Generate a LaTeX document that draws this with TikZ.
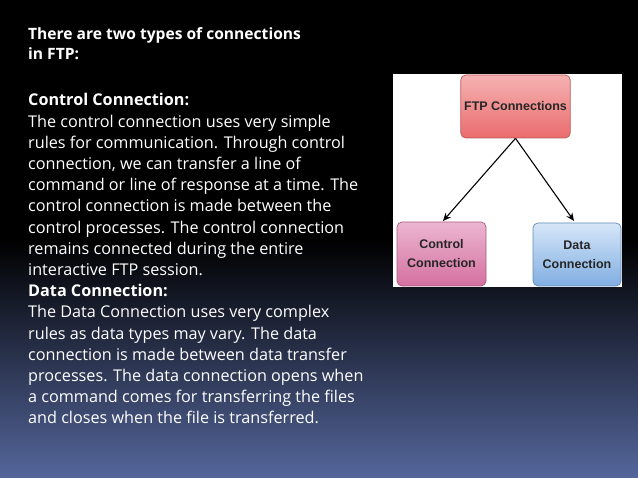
\documentclass[tikz,border=0pt]{standalone}
\usepackage{fontspec}
\setmainfont{Open Sans}
\newfontfamily\boxfont{Liberation Sans}
\usetikzlibrary{arrows.meta}
\definecolor{bgblue}{RGB}{84,102,155}
\definecolor{rtop}{RGB}{246,178,178}
\definecolor{rbot}{RGB}{234,108,110}
\definecolor{ptop}{RGB}{236,182,208}
\definecolor{pbot}{RGB}{212,112,160}
\definecolor{btop}{RGB}{214,230,248}
\definecolor{bbot}{RGB}{128,174,226}
\begin{document}
\begin{tikzpicture}[x=1pt,y=-1pt,
  txt/.style={anchor=base west,text=white,inner sep=0pt,font=\fontsize{16.2}{18}\selectfont},
  ttl/.style={anchor=base west,text=white,inner sep=0pt,font=\fontsize{15.6}{17}\selectfont\bfseries},
  box/.style={draw=#1,rounded corners=5pt,line width=0.7pt,font=\boxfont\fontsize{12.5}{19}\selectfont\bfseries,align=center,text=black!85},
  arr/.style={-{Stealth[length=8pt,width=7pt]},line width=1.1pt}]
\useasboundingbox (0,0) rectangle (638,478);
\fill[black] (0,0) rectangle (638,240);
\shade[top color=black,bottom color=bgblue] (0,239.5) rectangle (638,478);
\node[ttl] (t1) at (28,39.5) {There are two types of connections};
\node[ttl] (t2) at (28,59.5) {in FTP:};
\foreach \i/\s/\b in {
 0/{Control Connection:}/1,
 1/{The control connection uses very simple}/0,
 2/{rules for communication. Through control}/0,
 3/{connection, we can transfer a line of}/0,
 4/{command or line of response at a time. The}/0,
 5/{control connection is made between the}/0,
 6/{control processes. The control connection}/0,
 7/{remains connected during the entire}/0,
 8/{interactive FTP session.}/0,
 9/{Data Connection:}/1,
 10/{The Data Connection uses very complex}/0,
 11/{rules as data types may vary. The data}/0,
 12/{connection is made between data transfer}/0,
 13/{processes. The data connection opens when}/0,
 14/{a command comes for transferring the files}/0,
 15/{and closes when the file is transferred.}/0}{
  \ifnum\b=1
   \node[txt,font=\fontsize{16.2}{18}\selectfont\bfseries] (l\i) at (28,{106+\i*21.2}) {\s};
  \else
   \node[txt] (l\i) at (28,{106+\i*21.2}) {\s};
  \fi
}
\fill[white] (393,74) rectangle (622,287);
\node[box=rbot!80!black,top color=rtop,bottom color=rbot,minimum width=103pt,minimum height=63pt] (ftp) at (515.5,106.5) {FTP Connections};
\node[box=pbot!80!black,top color=ptop,bottom color=pbot,minimum width=89pt,minimum height=64pt] (ctl) at (441.5,254) {Control\\Connection};
\node[box=bbot!80!black,top color=btop,bottom color=bbot,minimum width=88pt,minimum height=63pt] (dat) at (577,254.5) {Data\\Connection};
\draw[arr] (ftp.south) -- (443,221);
\draw[arr] (ftp.south) -- (574,221);
\end{tikzpicture}
\end{document}
